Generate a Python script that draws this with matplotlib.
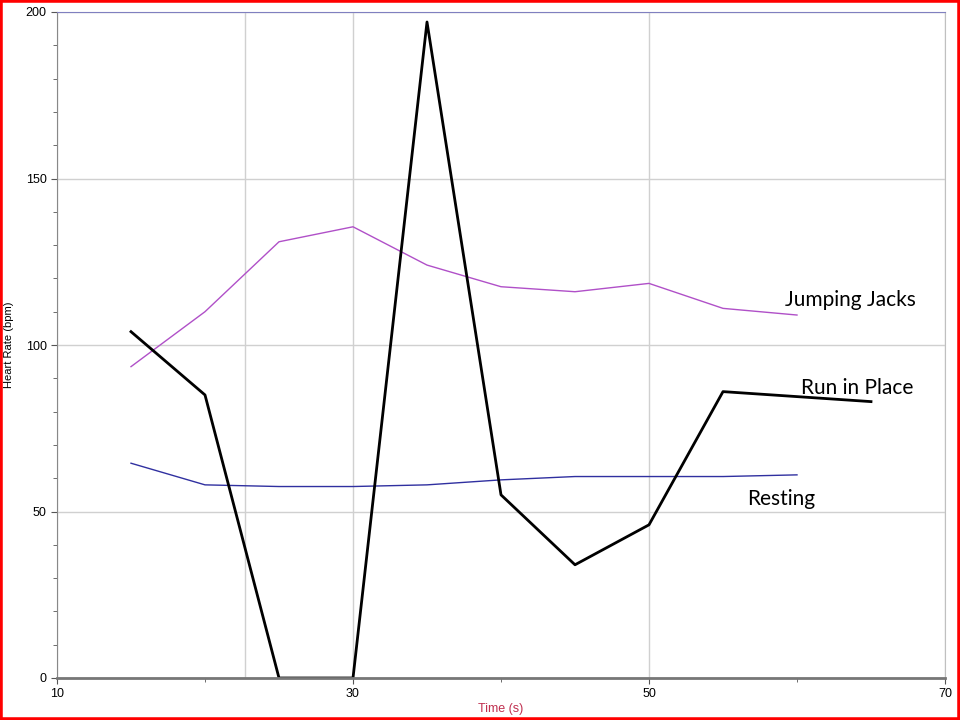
import matplotlib
matplotlib.use("Agg")
import matplotlib.pyplot as plt
from matplotlib.patches import Rectangle

time_run = [15, 20, 25, 30, 35, 40, 45, 50, 55, 65]
run_in_place = [104, 85, 0, 0, 197, 55, 34, 46, 86, 83]
time_other = [15, 20, 25, 30, 35, 40, 45, 50, 55, 60]
jumping_jacks = [93.5, 110, 131, 135.5, 124, 117.5, 116, 118.5, 111, 109]
resting = [64.5, 58, 57.5, 57.5, 58, 59.5, 60.5, 60.5, 60.5, 61]

fig = plt.figure(figsize=(9.6, 7.2), dpi=100)
ax = fig.add_axes([57/960, 42/720, 888/960, 666/720])
ax.set_xlim(10, 70)
ax.set_ylim(0, 200)
ax.set_xticks([10, 30, 50, 70])
ax.set_xticks([20, 40, 60], minor=True)
ax.set_yticks([0, 50, 100, 150, 200])
ax.set_yticks(range(0, 201, 10), minor=True)
ax.grid(True, which='major', color='#d0d0d0', lw=1)
ax.axvline(22.7, color='#d0d0d0', lw=1, zorder=0)
for lab in ax.get_xticklabels() + ax.get_yticklabels():
    lab.set_fontfamily('Liberation Sans')
ax.tick_params(labelsize=9, color='#555555', length=4)
ax.tick_params(which='minor', length=3, color='#555555')
ax.spines['left'].set_color('#888888')
ax.spines['bottom'].set_color('#777777')
ax.spines['bottom'].set_linewidth(2)
ax.spines['top'].set_color('#8080c0')
ax.spines['right'].set_color('#c0c0c0')

ax.plot(time_other, jumping_jacks, color='#b050c8', lw=1)
ax.plot(time_other, resting, color='#3030a0', lw=1)
ax.plot(time_run, run_in_place, color='black', lw=2)

ax.text(59.2, 113.5, 'Jumping Jacks', fontsize=15, family='Lato', va='center')
ax.text(60.3, 87, 'Run in Place', fontsize=15, family='Lato', va='center')
ax.text(56.6, 53.7, 'Resting', fontsize=15, family='Lato', va='center')

ax.set_xlabel('Time (s)', fontsize=9, color='#c03050', family='Liberation Sans', labelpad=2)
ax.set_ylabel('Heart Rate (bpm)', fontsize=8, family='Liberation Sans')
ax.yaxis.set_label_coords(-0.048, 0.5)

fig.patches.append(Rectangle((0, 0), 1, 1, transform=fig.transFigure,
                             fill=False, edgecolor='red', lw=4))
fig.savefig('out.png', dpi=100)
